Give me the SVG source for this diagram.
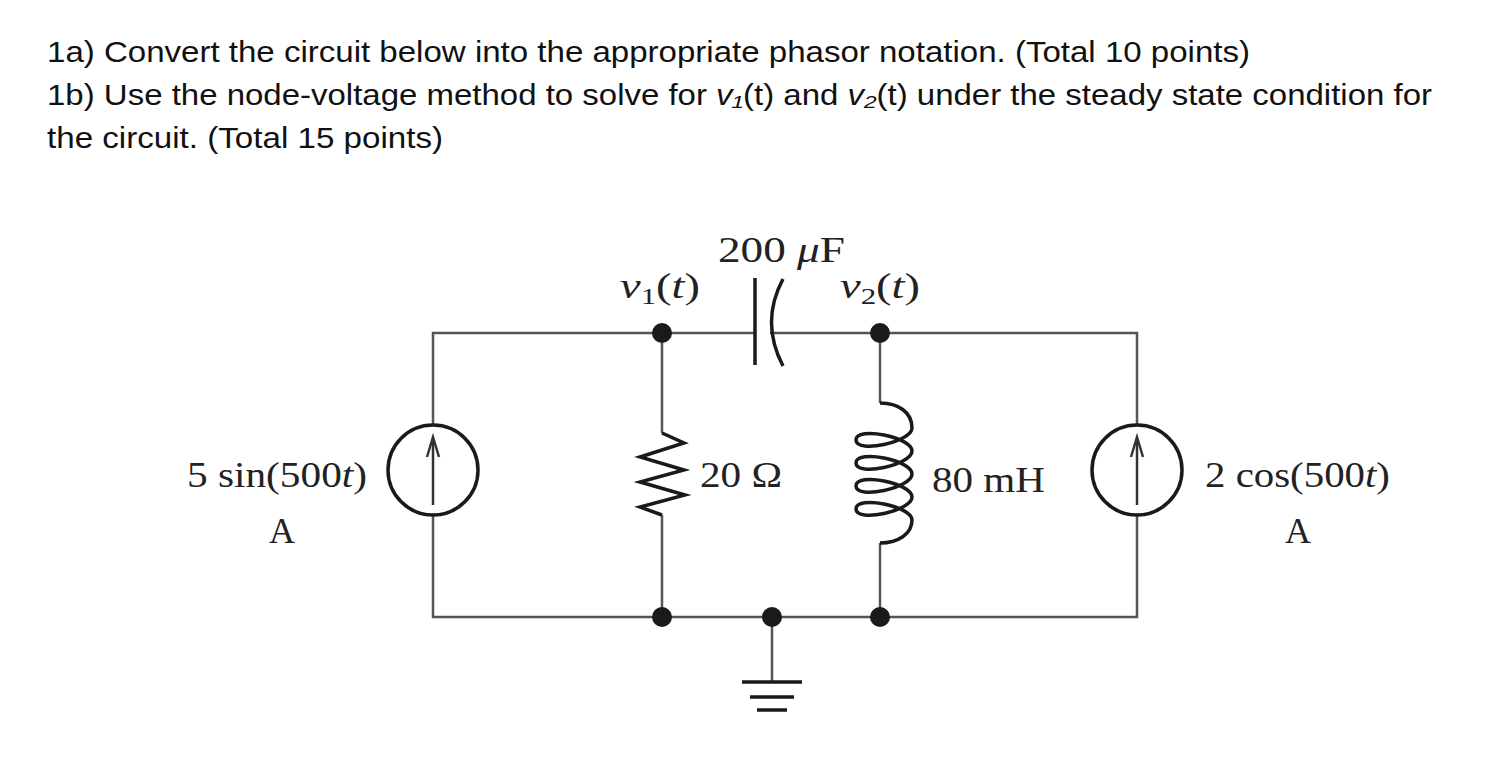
<svg xmlns="http://www.w3.org/2000/svg" width="1500" height="774" viewBox="0 0 1500 774">
<style>
.q{font-family:"Liberation Sans",Arial,sans-serif;font-size:29px;fill:#111}
.l{font-family:"Liberation Serif","Times New Roman",serif;font-size:36px;fill:#222}
.w{stroke:#555;stroke-width:2.5;fill:none}
.c{stroke:#1a1a1a;stroke-width:3.5;fill:none}
.d{fill:#1a1a1a}
</style>
<rect width="1500" height="774" fill="#fff"/>
<g id="question">
<text class="q" x="47" y="62" textLength="1203" lengthAdjust="spacingAndGlyphs">1a) Convert the circuit below into the appropriate phasor notation. (Total 10 points)</text>
<text class="q" x="47" y="105" textLength="1385" lengthAdjust="spacingAndGlyphs">1b) Use the node-voltage method to solve for <tspan font-style="italic">v₁</tspan>(t) and <tspan font-style="italic">v₂</tspan>(t) under the steady state condition for</text>
<text class="q" x="47" y="148" textLength="396" lengthAdjust="spacingAndGlyphs">the circuit. (Total 15 points)</text>
</g>
<g id="connectors">
<path class="w" d="M433,425 V333 H755 M770,333 H1137 V424 M433,516 V617 H1137 V516 M662,333 V433 M662,515 V617 M880,333 V403 M880,543 V617 M772,617 V682"/>
</g>
<g id="source1">
<circle class="c" cx="433" cy="470" r="45"/>
<path d="M433,505 V440" stroke="#333" stroke-width="2.5"/>
<path d="M427,457 L433,437 L439,457" stroke="#333" stroke-width="2.5" fill="none"/>
<text class="l" x="187" y="487" textLength="180" lengthAdjust="spacingAndGlyphs">5 sin(500<tspan font-style="italic">t</tspan>)</text>
<text class="l" x="282" y="543" text-anchor="middle">A</text>
</g>
<g id="source2">
<circle class="c" cx="1137" cy="470" r="45"/>
<path d="M1137,505 V440" stroke="#333" stroke-width="2.5"/>
<path d="M1131,457 L1137,437 L1143,457" stroke="#333" stroke-width="2.5" fill="none"/>
<text class="l" x="1205" y="487" textLength="185" lengthAdjust="spacingAndGlyphs">2 cos(500<tspan font-style="italic">t</tspan>)</text>
<text class="l" x="1298" y="543" text-anchor="middle">A</text>
</g>
<g id="capacitor">
<path class="c" d="M755,278 V365 M783,279 Q760,322 783,366"/>
<text class="l" x="718" y="262" textLength="127" lengthAdjust="spacingAndGlyphs">200 <tspan font-style="italic">μ</tspan>F</text>
</g>
<g id="node1">
<circle class="d" cx="662" cy="333" r="10"/>
<text class="l" x="620" y="298" font-style="italic" textLength="80" lengthAdjust="spacingAndGlyphs">v<tspan font-style="normal" font-size="24" dy="6">1</tspan><tspan font-style="normal" dy="-6">(</tspan>t<tspan font-style="normal">)</tspan></text>
</g>
<g id="node2">
<circle class="d" cx="880" cy="333" r="10"/>
<text class="l" x="840" y="298" font-style="italic" textLength="80" lengthAdjust="spacingAndGlyphs">v<tspan font-style="normal" font-size="24" dy="6">2</tspan><tspan font-style="normal" dy="-6">(</tspan>t<tspan font-style="normal">)</tspan></text>
</g>
<g id="resistor">
<path class="c" stroke-linejoin="miter" d="M662,433 L684,443 L640,457 L684,470 L640,482 L685,495 L640,507 L662,515"/>
<text class="l" x="700" y="487" textLength="82" lengthAdjust="spacingAndGlyphs">20 Ω</text>
</g>
<g id="inductor">
<path class="c" d="M880,403 C898,403 912,412 912,428 C912,442 856,454 856,440 C856,426 912,437 912,451 C912,465 856,477 856,463 C856,449 912,460 912,474 C912,488 856,500 856,486 C856,472 912,483 912,497 C912,511 856,523 856,509 C856,495 912,506 912,520 C912,534 898,543 880,543"/>
<text class="l" x="932" y="492" textLength="113" lengthAdjust="spacingAndGlyphs">80 mH</text>
</g>
<g id="bottom-nodes">
<circle class="d" cx="662" cy="617" r="10"/>
<circle class="d" cx="772" cy="617" r="10"/>
<circle class="d" cx="880" cy="617" r="10"/>
</g>
<g id="ground">
<path class="c" d="M742,682 H802 M750,697 H794 M757,710 H787"/>
</g>
</svg>
